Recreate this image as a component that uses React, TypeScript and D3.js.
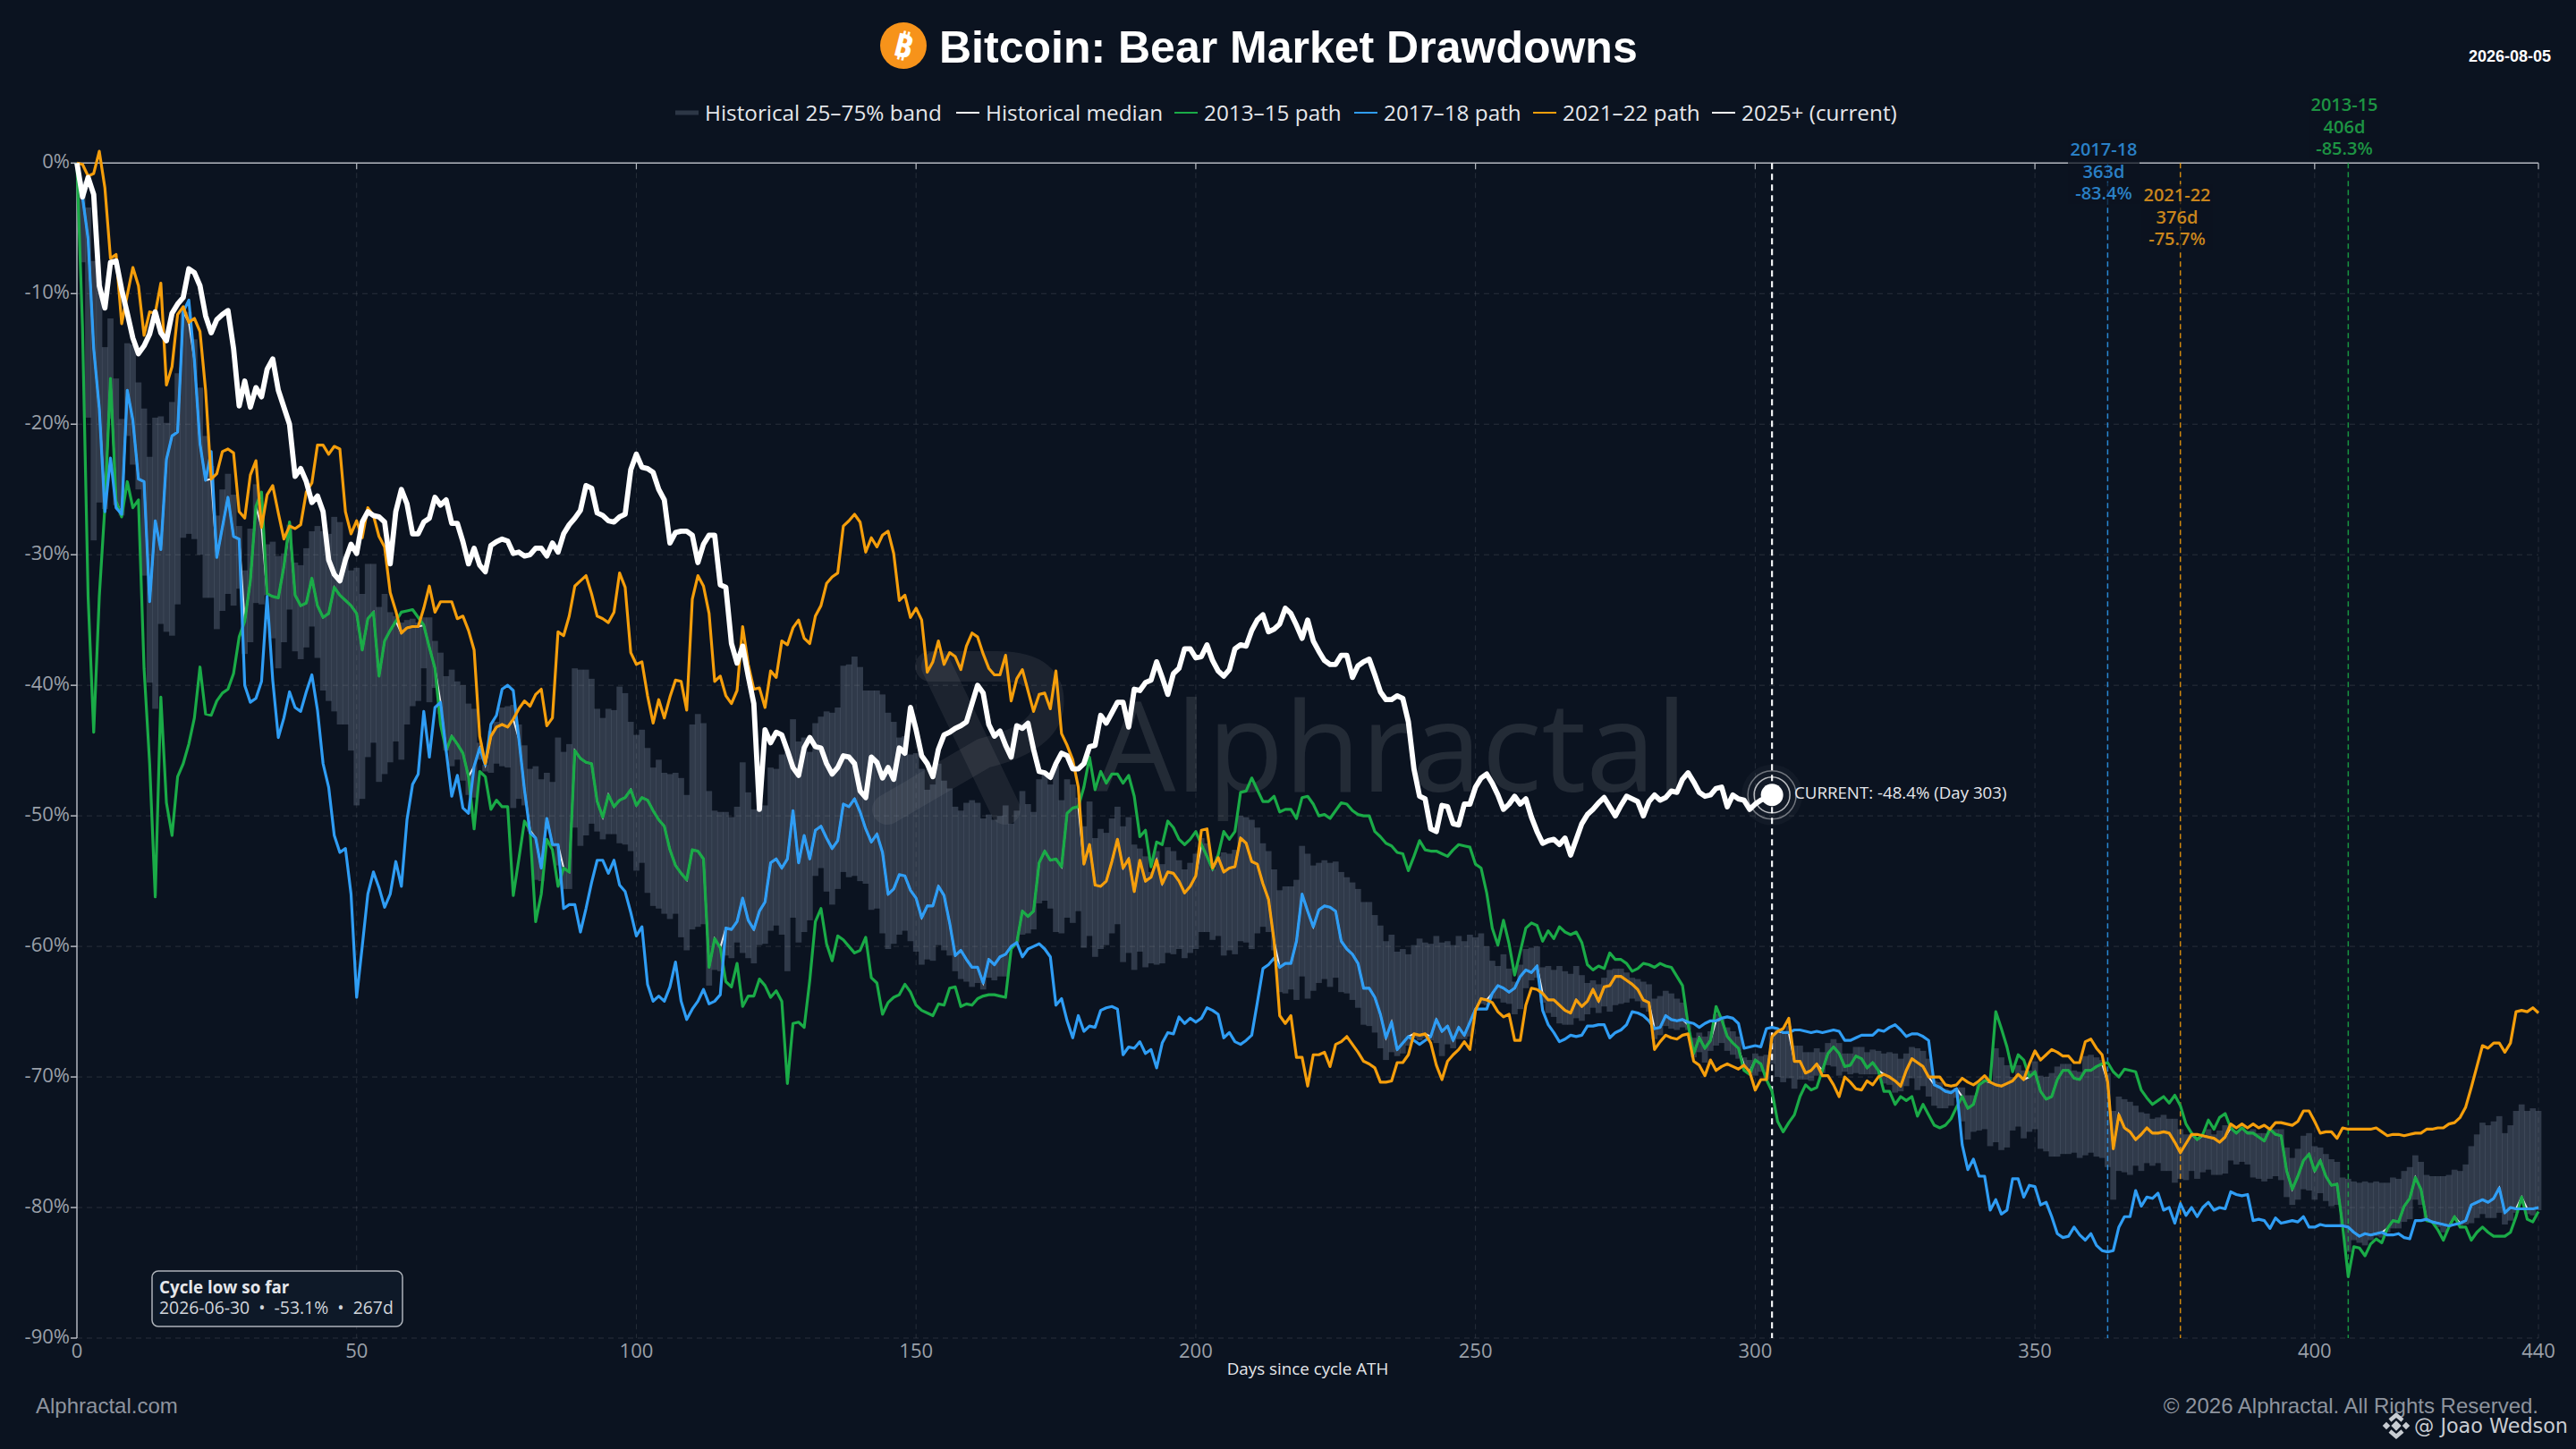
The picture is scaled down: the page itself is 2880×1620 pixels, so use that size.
import React from 'react';
import * as d3 from 'd3';

// daily drawdown (%), index = days since cycle ATH
const path2013 = [
  0,-12.6,-33.2,-43.6,-33.2,-26.3,-16.5,-25.9,-27.1,-24.4,-26.4,-25.8,-38.7,-46,-56.2,-40.9,-49,-51.5,-47,-46,
  -44.5,-42.5,-38.6,-42.2,-42.3,-41.2,-40.6,-40.3,-39.1,-36.3,-35.1,-32,-26.3,-25.2,-33,-33.2,-33.3,-30.9,-27.5,-33.1,
  -33.9,-33.7,-31.8,-33.9,-34.8,-34.5,-32.5,-33.1,-33.5,-33.9,-34.5,-37.3,-34.9,-34.4,-39.3,-36.6,-35.8,-35.1,-34.4,-34.3,
  -34.2,-34.8,-35.4,-37.1,-38.7,-43,-45,-43.9,-44.5,-45.2,-47,-51,-46.6,-47,-49.5,-48.8,-49.3,-49.3,-56.1,-53.3,
  -50.4,-51.1,-58.1,-56,-51.8,-52.6,-55.4,-54,-54.3,-45,-45.6,-45.9,-46,-48.9,-50.1,-48.4,-49.3,-48.8,-48.6,-48,
  -49.2,-48.6,-48.8,-49.6,-50.3,-50.8,-52.6,-53.8,-54.4,-54.9,-52.6,-52.7,-53.3,-61.6,-59.4,-60.1,-62.7,-63.1,-61.3,-64.6,
  -63.8,-63.8,-62.5,-63,-63.9,-63.4,-64.2,-70.5,-65.9,-65.8,-66.2,-62.6,-58.1,-57.1,-59.8,-61.1,-59.2,-59.5,-60,-60.5,
  -60.3,-59.3,-62.4,-62.8,-65.2,-64.3,-63.9,-63.7,-62.9,-63.5,-64.5,-64.9,-65.1,-65.3,-64.4,-64.5,-63.2,-63.1,-64.6,-64.4,
  -64.5,-64,-63.8,-63.7,-63.7,-63.8,-63.9,-60.2,-59.7,-57.3,-57.7,-57.3,-53.6,-52.7,-53.4,-53.3,-53.9,-49.8,-49.4,-49.3,
  -47.8,-45.5,-48,-46.6,-47.5,-46.8,-46.8,-47.5,-46.9,-48.5,-51.6,-51.1,-53.9,-52,-52.2,-50.4,-50.9,-51.8,-52.2,-51.8,
  -51.2,-52.2,-53.1,-54.1,-53,-51.2,-51.8,-51.2,-48.2,-48.1,-47.1,-48,-48.9,-48.9,-48.5,-49.7,-49.5,-49.5,-50.2,-48.6,
  -48.5,-49.1,-50,-49.9,-50.2,-49.6,-49,-49.1,-49.6,-49.9,-50,-50,-51.2,-51.6,-52.1,-52.3,-52.8,-52.9,-54.2,-53.1,
  -51.9,-52.6,-52.7,-52.7,-52.9,-53.1,-52.6,-52.2,-52.3,-52.4,-53.7,-54,-55.9,-58.6,-59.9,-58,-59.8,-62.2,-60.4,-58.6,
  -58.2,-58.4,-59.6,-58.8,-59.4,-58.5,-58.9,-59.1,-58.9,-59.7,-61.4,-61.8,-61.5,-61.7,-60.5,-61,-61,-61.3,-61.9,-61.7,
  -61.3,-61.4,-61.6,-61.3,-61.5,-61.6,-62.3,-63,-66,-68.2,-67,-67.8,-67.2,-64.6,-65.6,-66.9,-67.4,-67.8,-69.5,-69.8,
  -68.7,-69,-70.2,-71.1,-73.4,-74.2,-73.5,-72.9,-71.5,-70.6,-71,-70.8,-69.5,-68.2,-67.7,-68.2,-69.2,-69.1,-68.4,-68.6,
  -69.3,-68.9,-69.5,-71.1,-71.1,-72.1,-71.5,-71.8,-71.5,-73,-72.1,-72.9,-73.7,-73.9,-73.7,-73.2,-72.3,-71.5,-72.4,-72.1,
  -70.6,-70.3,-70.3,-65,-66.3,-67.7,-69.6,-68.3,-68.7,-70,-69.6,-71.1,-71.7,-71.5,-70.2,-69.5,-69.5,-70.1,-70.2,-69.5,
  -69.5,-69.2,-69,-68.9,-69.6,-70,-69.4,-69.5,-69.6,-71,-71.6,-72.1,-71.8,-71.5,-72,-71.4,-72.2,-73.6,-74.3,-74.8,
  -74.4,-73.3,-74,-73.1,-72.8,-73.9,-74.3,-73.9,-74.3,-74.3,-74.6,-74.9,-74,-74.4,-74.5,-77.2,-78.6,-77.6,-76.4,-75.9,
  -77.2,-76.4,-77.6,-78.3,-78.2,-81.4,-85.3,-83,-83.1,-83.7,-82.8,-82.4,-82.7,-81.6,-81,-81.1,-79.9,-79.3,-77.7,-78.6,
  -81,-81.1,-81.7,-82.5,-81.5,-80.7,-81.5,-81.5,-82.5,-81.9,-81.5,-81.9,-82.2,-82.2,-82.2,-81.9,-80.7,-79.2,-80.9,-81.1,
  -80.3,
];

const path2017 = [
  0,-2.6,-5.8,-14.2,-18.8,-26.7,-22.6,-26.4,-26.9,-17.4,-19.7,-24.2,-24.4,-33.6,-27.4,-29.6,-22.7,-20.9,-20.6,-11.4,
  -10.5,-15.1,-21.5,-24.3,-22.1,-30.2,-27.9,-25.6,-28.6,-28.8,-40,-41.3,-41,-39.7,-33.2,-39.6,-44,-42.5,-40.5,-41.7,
  -42,-40.5,-39.2,-41.9,-46,-47.8,-51.5,-52.8,-52.5,-56,-63.9,-60,-56,-54.3,-55.5,-57,-56,-53.5,-55.4,-50.3,
  -47.6,-46.8,-42,-45.5,-41.7,-41.3,-45,-48.5,-46.9,-49.4,-49.8,-46.2,-44.8,-46.1,-43,-42.3,-40.3,-40,-40.4,-44.1,
  -48,-51.3,-51.7,-54,-50.2,-52.2,-52.2,-57.1,-56.8,-56.8,-58.9,-57.1,-55.1,-53.4,-53.4,-54.4,-53.4,-55.3,-55.8,-57.4,
  -59.2,-58.5,-62.9,-64.2,-63.8,-64.2,-63.1,-61.2,-64.2,-65.6,-64.8,-64.2,-63.3,-64.4,-64.2,-63.7,-58.6,-58.7,-58.1,-56.3,
  -58,-58.7,-57.3,-56.6,-53.6,-53.3,-54,-53.3,-49.6,-53.6,-51.5,-53.3,-51.1,-50.8,-51.7,-52.5,-51.9,-49.1,-49.3,-48.7,
  -49.7,-51,-52,-51.4,-52.8,-56,-55.6,-54.5,-54.6,-55.7,-56.3,-57.8,-56.9,-56.9,-55.4,-56.1,-58.2,-60.7,-60.3,-61,
  -61.6,-61.6,-62.8,-61,-61.4,-60.8,-60.6,-60,-59.7,-60.8,-60.2,-60,-59.8,-60.2,-60.8,-64.5,-64,-65.7,-67,-65.3,
  -66.5,-66.1,-66.2,-64.9,-64.7,-64.6,-64.8,-68.3,-67.7,-67.8,-67.3,-68.2,-67.9,-69.3,-67.4,-66.6,-66.7,-65.4,-65.9,-65.5,
  -65.8,-65.5,-64.7,-64.9,-65.2,-67,-66.6,-67.3,-67.5,-67.2,-66.8,-64.3,-61.7,-61.4,-60.9,-61.6,-61.3,-61.3,-59.6,-56,
  -57.3,-58.5,-57.2,-56.9,-57,-57.3,-59.6,-60.2,-60.6,-61.3,-63.2,-63.2,-63.9,-65.2,-67,-65.8,-67.9,-67.4,-66.9,-67.2,
  -67.5,-67.2,-66.9,-65.6,-66.5,-66.1,-67.2,-66.2,-66.8,-65.8,-64.8,-64.8,-64.8,-63.6,-63,-63.2,-63.5,-63.2,-62.3,-61.8,
  -62,-61.5,-64.9,-66,-66.6,-67.3,-67.1,-66.8,-66.9,-66.8,-66.1,-66.1,-66,-66,-67,-66.6,-66.4,-66,-65,-65.1,
  -65.3,-65.7,-66.3,-66.2,-65.3,-65.6,-65.7,-65.6,-65.8,-65.9,-66.2,-65.9,-65.7,-65.7,-65.5,-65.4,-65.5,-65.9,-67.8,-67.7,
  -67.6,-67.7,-66.3,-66.2,-66.3,-66.6,-66.6,-66.4,-66.4,-66.5,-66.6,-66.5,-66.6,-66.5,-66.4,-66.5,-67.2,-67.2,-67,-66.8,
  -66.8,-66.8,-66.4,-66.5,-66.2,-66,-66.4,-66.9,-66.7,-66.7,-66.9,-67.2,-70.6,-70.8,-71.1,-71.2,-70.9,-75.2,-77.1,-76.3,
  -77.6,-77.6,-80.2,-79.4,-80.5,-80.2,-77.8,-77.8,-79.2,-78.3,-78.4,-79.8,-79.6,-80.7,-82,-82.3,-82.2,-81.5,-82.1,-82.5,
  -82,-82.9,-83.3,-83.4,-83.3,-81.5,-80.7,-80.7,-78.7,-79.9,-79.2,-79.3,-78.9,-80.2,-80,-81.2,-79.7,-80.6,-80,-80.7,
  -80,-79.6,-80.2,-80,-80.1,-78.8,-79,-79.1,-79,-81,-80.9,-81,-81.6,-80.8,-81.2,-81.1,-81,-81.1,-80.7,-81.5,
  -81.5,-81.3,-81.4,-81.4,-81.4,-81.4,-81.5,-81.9,-82.2,-82,-82.1,-82,-81.9,-82.1,-82.1,-82,-82.3,-82.4,-81,-81,
  -80.9,-81.1,-81.2,-81.3,-81.4,-81.3,-81.2,-81,-79.8,-79.6,-79.4,-79.6,-79.3,-78.5,-80.4,-80,-80.1,-80.1,-80.1,-80.1,
  -80,
];

const path2021 = [
  0,-0.1,-1,-0.8,0.9,-1.9,-7.3,-7,-12.3,-10.1,-8,-9.4,-13.2,-11.4,-11.5,-9.2,-17,-15.6,-11.6,-11,
  -12.2,-11.9,-12.9,-17.4,-24.2,-23.8,-22.1,-21.9,-22.2,-26.7,-27.2,-23.9,-22.8,-27.9,-25.4,-24.7,-26.8,-28.8,-27.8,-28,
  -27.7,-25.2,-24.5,-21.6,-21.6,-22.3,-21.7,-21.9,-26.7,-28.4,-27.4,-28.7,-26.4,-27,-28.6,-29.4,-32.9,-34.3,-36,-35.6,
  -35.5,-35.5,-34.1,-32.4,-34.4,-33.6,-33.6,-33.6,-34.9,-34.7,-35.8,-37.3,-43.9,-46,-43.9,-43.2,-43,-43.2,-42.6,-41.8,
  -41.2,-41.6,-40.7,-40.3,-43.1,-42.5,-35.9,-36.2,-34.7,-32.4,-32,-31.6,-33,-34.7,-34.9,-35.2,-34.4,-31.4,-32.5,-37.5,
  -38.4,-38.2,-40.8,-42.9,-41.1,-42.5,-40.9,-39.6,-39.7,-41.9,-33.4,-31.6,-32.4,-34.5,-39.7,-39.3,-40.8,-41.4,-40.4,-35.5,
  -38.4,-40.3,-40.2,-41.7,-38.9,-39.4,-36.6,-36.9,-35.6,-35,-36.4,-36.8,-34.7,-33.9,-32.2,-31.7,-31.4,-27.8,-27.4,-26.9,
  -27.5,-29.8,-28.7,-29.4,-28.5,-28.2,-29.9,-33.5,-33.1,-34.8,-34.1,-35,-39,-38.2,-36.6,-38.4,-37.5,-37.8,-38.8,-37,
  -36,-36.3,-37.6,-38.7,-39.2,-39.2,-37.7,-41.2,-39.5,-38.8,-40.4,-42,-40.7,-40.6,-41.8,-38.9,-43.7,-44.6,-45.7,-47.8,
  -53.7,-52.2,-55.3,-55.4,-55,-53.5,-51.8,-54,-53.3,-55.8,-53.4,-55,-54.7,-53.4,-55.2,-54.3,-54.4,-55,-55.9,-55.4,
  -54.6,-51.1,-51,-54,-53.2,-54.3,-54,-53.9,-51.7,-52.1,-53.5,-53.7,-55.2,-56.4,-59.6,-65.3,-65.9,-65.3,-68.5,-68.5,
  -70.7,-68.3,-68.3,-68.1,-69.2,-67.5,-67.3,-66.9,-67.5,-68.1,-68.8,-69,-69.3,-70.4,-70.4,-70.3,-68.9,-68.9,-68.3,-66.7,
  -66.8,-66.7,-67.4,-69.1,-70.2,-68.8,-68.3,-67.9,-67.3,-67.9,-64.9,-64,-64.1,-64.3,-65,-65.4,-65.2,-67.2,-67.2,-64.5,
  -63.2,-63.3,-63.6,-64.1,-64.1,-64.5,-64.9,-65.1,-64.1,-64.6,-64.2,-63.3,-64.2,-63.1,-63,-62.3,-62.3,-62.6,-62.9,-63.3,
  -64.1,-64.3,-67.9,-67.3,-66.8,-67,-67.1,-66.8,-66.7,-68.8,-69.1,-69.9,-68.7,-69.5,-69.2,-69,-69.2,-69.4,-69.1,-69.6,
  -71,-70.2,-70.2,-66.9,-66.5,-66.3,-65.5,-68.8,-68.8,-69.7,-69.5,-69,-69.9,-69.9,-70.6,-71.5,-70,-70.4,-70.9,-71,
  -70.3,-70.6,-70,-69.8,-70,-70.3,-70.7,-69.5,-68.6,-68.9,-69.2,-70,-70,-70,-70.6,-70.7,-70.6,-70.1,-70.4,-70.6,
  -70.3,-69.9,-70.4,-70.6,-70.7,-70.5,-70.3,-69.8,-70.2,-69,-68,-68.7,-68.3,-67.9,-68.1,-68.4,-68.4,-68.9,-68.9,-67.3,
  -67.1,-67.8,-68.3,-70.4,-75.5,-72.9,-73.9,-74.2,-74.8,-74.4,-73.9,-74.3,-74.3,-74.2,-74.3,-75,-75.8,-75.1,-74.4,-74.4,
  -74.5,-74.6,-74.7,-75,-74.6,-73.6,-73.9,-73.6,-73.9,-73.6,-73.9,-73.7,-74,-73.5,-73.5,-73.6,-73.7,-73.4,-72.6,-72.6,
  -73.4,-74.3,-74.2,-74.2,-74.7,-73.9,-74,-74,-74,-74,-74,-73.9,-74.2,-74.5,-74.4,-74.4,-74.5,-74.4,-74.3,-74.3,
  -74,-74,-73.9,-73.9,-73.6,-73.5,-73.1,-72.3,-70.8,-69.2,-67.6,-67.8,-67.4,-67.4,-68.1,-67.4,-65,-64.9,-65,-64.7,
  -65.1,
];

const pathCurrent = [
  0,-2.6,-1.1,-2.4,-9.4,-11.1,-7.6,-7.5,-9.7,-11.5,-13.4,-14.6,-14,-13.1,-11.4,-13,-13.6,-11.5,-10.8,-10.3,
  -8.1,-8.4,-9.4,-11.7,-13,-12,-11.6,-11.3,-14.2,-18.6,-16.7,-18.7,-17.2,-17.9,-15.8,-15,-17.4,-18.7,-20,-24,
  -23.4,-24.4,-26,-25.5,-26.7,-30.4,-31.5,-32,-30.4,-29.2,-29.9,-27.5,-26.7,-27,-27.1,-27.5,-30.7,-26.7,-25,-26.1,
  -28.4,-28.4,-27.5,-27.2,-25.6,-26.2,-25.8,-27.6,-27.6,-29,-30.7,-29.5,-30.8,-31.3,-29.3,-29,-28.8,-28.95,-29.9,-29.8,
  -30.1,-30,-29.5,-29.5,-30.1,-29.1,-29.8,-28.4,-27.7,-27.2,-26.6,-24.7,-24.9,-26.8,-27,-27.4,-27.5,-27.1,-26.9,-23.5,
  -22.3,-23.3,-23.4,-23.7,-25,-25.8,-29.1,-28.3,-28.2,-28.2,-28.5,-30.6,-29.2,-28.5,-28.5,-32.3,-32.5,-36.8,-38.3,-37,
  -39.3,-41.4,-49.5,-43.4,-44.4,-43.6,-43.8,-45,-46.3,-46.9,-44.8,-44,-44.7,-44.8,-46,-46.8,-46.3,-45.4,-45.5,-46,
  -48.1,-48.6,-45.5,-45.9,-47.1,-46.3,-47.2,-44.8,-45.2,-41.7,-43.4,-45.4,-46,-47,-44.9,-43.8,-43.6,-43.3,-43.1,-42.8,
  -41.4,-40,-40.6,-43,-43.9,-43.5,-44.6,-45.5,-43.1,-43.3,-42.9,-44.9,-46.6,-46.7,-47.05,-46,-45.2,-45.4,-46.4,-46.4,
  -46,-44.7,-44.6,-42.3,-42.9,-42.1,-41.3,-41.3,-43.2,-40.3,-40.4,-39.8,-39.6,-38.2,-39.4,-40.7,-39.1,-38.7,-37.2,-37.2,
  -37.9,-37.8,-36.9,-38.1,-38.9,-39.3,-38.8,-37.2,-36.9,-37,-35.8,-35,-34.6,-35.9,-35.7,-35.3,-34.1,-34.5,-35.4,-36.4,
  -35,-36.6,-37.4,-38.1,-38.4,-38.4,-37.7,-37.7,-39.4,-38.5,-38.2,-38,-39.2,-40.5,-41.1,-41.1,-40.8,-41,-42.8,-46.4,
  -48.5,-48.7,-51,-51.2,-49.2,-49.3,-50.6,-50.7,-49.1,-49.1,-47.8,-47.1,-46.8,-47.5,-48.4,-49.5,-49.1,-48.5,-49.1,-48.7,
  -50.1,-51.2,-52.1,-51.9,-51.8,-52.2,-51.7,-53,-51.8,-50.6,-49.9,-49.5,-49,-48.6,-49.3,-50,-49.2,-48.5,-48.7,-48.9,
  -50,-48.9,-48.4,-48.8,-48.6,-48.1,-48.2,-47.2,-46.7,-47.4,-48.2,-48.5,-48.4,-47.9,-47.8,-49.3,-48.4,-48.7,-48.8,-49.5,
  -49.1,-48.8,-48.6,-48.4,
];

const histMedian = [
  0,-2.6,-5.8,-14.2,-18.8,-26.3,-16.5,-25.9,-26.9,-17.4,-19.7,-24.2,-24.4,-33.6,-27.4,-29.6,-22.7,-20.9,-20.6,-11.4,
  -12.2,-15.1,-21.5,-24.3,-24.2,-30.2,-27.9,-25.6,-28.6,-28.8,-35.1,-32,-26.3,-27.9,-33,-33.2,-33.3,-30.9,-27.8,-33.1,
  -33.9,-33.7,-31.8,-33.9,-34.8,-34.5,-32.5,-33.1,-33.5,-33.9,-34.5,-37.3,-34.9,-34.4,-39.3,-36.6,-35.8,-35.1,-36,-35.6,
  -35.5,-35.5,-35.4,-37.1,-38.7,-41.3,-45,-43.9,-44.5,-45.2,-47,-46.2,-44.8,-46.1,-43.9,-43.2,-43,-43.2,-42.6,-44.1,
  -48,-51.1,-51.7,-54,-50.2,-52.2,-52.2,-54,-54.3,-45,-45.6,-45.9,-46,-48.9,-50.1,-48.4,-49.3,-48.8,-48.6,-48,
  -49.2,-48.6,-48.8,-49.6,-50.3,-50.8,-52.6,-53.8,-54.4,-54.9,-52.6,-52.7,-53.3,-61.6,-59.4,-60.1,-58.6,-58.7,-58.1,-56.3,
  -58,-58.7,-57.3,-56.6,-53.6,-53.3,-54,-53.3,-49.6,-53.6,-51.5,-53.3,-51.1,-50.8,-51.7,-52.5,-51.9,-49.1,-49.3,-48.7,
  -49.7,-51,-52,-51.4,-52.8,-56,-55.6,-54.5,-54.6,-55.7,-56.3,-57.8,-56.9,-56.9,-55.4,-56.1,-58.2,-60.7,-60.3,-61,
  -61.6,-61.6,-62.8,-61,-61.4,-60.8,-60.6,-60,-59.7,-57.3,-57.7,-57.3,-53.6,-52.7,-53.4,-53.3,-53.9,-49.8,-49.4,-49.3,
  -53.7,-52.2,-55.3,-55.4,-55,-53.5,-51.8,-54,-53.3,-55.8,-53.4,-55,-54.7,-53.4,-55.2,-54.3,-54.4,-55,-55.9,-55.4,
  -54.6,-52.2,-53.1,-54.1,-53.2,-54.3,-54,-53.9,-51.7,-52.1,-53.5,-53.7,-55.2,-56.4,-59.6,-61.6,-61.3,-61.3,-59.6,-56,
  -57.3,-58.5,-57.2,-56.9,-57,-57.3,-59.6,-60.2,-60.6,-61.3,-63.2,-63.2,-63.9,-65.2,-67,-65.8,-67.9,-67.4,-66.9,-66.7,
  -66.8,-66.7,-66.9,-65.6,-66.5,-66.1,-67.2,-66.2,-66.8,-65.8,-64.8,-64,-64.1,-63.6,-63,-63.2,-63.5,-63.2,-62.3,-61.8,
  -62,-61.5,-63.6,-64.1,-64.1,-64.5,-64.9,-65.1,-64.1,-64.6,-64.2,-63.3,-64.2,-63.1,-63,-62.3,-62.3,-62.6,-62.9,-63.3,
  -64.1,-64.3,-66.3,-66.2,-65.3,-65.6,-65.7,-65.6,-66,-68.2,-67,-67.8,-67.2,-65.7,-65.6,-66.9,-67.4,-67.8,-69.1,-69.6,
  -68.7,-69,-70.2,-66.9,-66.5,-66.6,-66.6,-68.8,-68.8,-69.7,-69.5,-69,-69.5,-68.2,-67.7,-68.2,-69.2,-69.1,-68.4,-68.6,
  -69.3,-68.9,-69.5,-69.8,-70,-70.3,-70.7,-69.5,-68.6,-68.9,-69.2,-70,-70.6,-70.8,-71.1,-71.2,-70.9,-71.5,-72.4,-72.1,
  -70.6,-70.3,-70.4,-70.6,-70.7,-70.5,-70.3,-69.8,-70.2,-70,-69.6,-71.1,-71.7,-71.5,-70.2,-69.5,-69.5,-70.1,-70.2,-69.5,
  -69.5,-69.2,-69,-70.4,-75.5,-72.9,-73.9,-74.2,-74.8,-74.4,-73.9,-74.3,-74.3,-74.2,-74.3,-75,-75.8,-75.1,-74.4,-74.8,
  -74.5,-74.6,-74.7,-75,-74.6,-73.9,-74.3,-73.9,-74.3,-74.3,-74.6,-74.9,-74,-74.4,-74.5,-77.2,-78.6,-77.6,-76.4,-75.9,
  -77.2,-76.4,-77.6,-78.3,-78.2,-81.4,-81.5,-81.9,-82.2,-82,-82.1,-82,-81.9,-81.6,-81,-81.1,-79.9,-79.3,-77.7,-78.6,
  -80.9,-81.1,-81.2,-81.3,-81.4,-80.7,-81.2,-81,-79.8,-79.6,-79.4,-79.6,-79.3,-78.5,-80.4,-80,-80.1,-79.2,-80.1,-80.1,
  -80,
];

const bandUpper = [
  0,-1.4,-3.4,-7.5,-9,-14.1,-11.9,-16.5,-19.6,-13.8,-13.9,-16.8,-18.8,-22.5,-19.5,-19.4,-19.9,-18.3,-16.1,-11.2,
  -11.4,-13.5,-17.2,-20.9,-23.2,-27,-25,-23.8,-25.4,-27.8,-31.2,-28,-24.6,-26.6,-29.2,-29,-30.1,-29.9,-27.7,-30.6,
  -30.8,-29.5,-28.2,-27.8,-28.2,-28.4,-27.1,-27.5,-30.1,-31.2,-31,-33,-30.7,-30.7,-34,-33,-34.4,-34.7,-35.2,-35,
  -34.9,-35.2,-34.8,-34.8,-36.6,-37.5,-39.3,-38.8,-39.7,-40,-41.4,-41.8,-44.4,-46.1,-43.5,-42.8,-41.7,-41.6,-41.5,-43,
  -44.6,-46.4,-46.2,-47.2,-46.7,-47.4,-44,-45.1,-44.5,-38.7,-38.8,-38.8,-39.5,-41.8,-42.5,-41.8,-41.9,-40.1,-40.6,-42.8,
  -43.8,-43.4,-44.8,-46.3,-45.7,-46.7,-46.8,-46.7,-47.1,-48.4,-43,-42.2,-42.9,-48.1,-49.6,-49.7,-49.7,-50.1,-49.3,-45.9,
  -48.2,-49.5,-48.8,-49.2,-46.3,-46.4,-45.3,-45.1,-42.6,-44.3,-44,-45.1,-42.9,-42.4,-42,-42.1,-41.7,-38.5,-38.4,-37.8,
  -38.6,-40.4,-40.4,-40.4,-40.7,-42.1,-42.8,-44,-43.9,-45.3,-45.2,-46.4,-48,-47.6,-46,-47.3,-47.9,-49.3,-49.6,-49,
  -48.8,-49,-50.2,-49.9,-50.3,-50,-49.2,-50.6,-49.6,-48.1,-49.1,-49.7,-47.2,-46.7,-47.6,-46.1,-48.8,-47.2,-47.6,-48.6,
  -50.8,-48.9,-51.7,-51,-51.3,-50.2,-49.3,-50.8,-50.1,-52.2,-52.5,-53.1,-54.3,-52.7,-53.7,-52.4,-52.7,-53.4,-54.1,-53.6,
  -52.9,-51.7,-52.1,-54.1,-53.1,-52.8,-52.9,-52.6,-50,-50.1,-50.3,-50.9,-52.1,-52.7,-54.1,-55.7,-55.4,-55.4,-54.9,-52.3,
  -52.9,-53.8,-53.6,-53.4,-53.6,-53.5,-54.3,-54.7,-55.1,-55.6,-56.6,-56.6,-57.6,-58.4,-59.6,-59.1,-60.4,-60.2,-60.6,-59.9,
  -59.4,-59.7,-59.8,-59.2,-59.7,-59.6,-59.9,-59.2,-59.6,-59.1,-59.3,-59,-60,-61.1,-61.5,-60.6,-61.7,-62.7,-61.4,-60.2,
  -60.1,-60,-61.6,-61.5,-61.8,-61.5,-61.9,-62.1,-61.5,-62.2,-62.8,-62.6,-62.9,-62.4,-61.8,-61.7,-61.7,-62,-62.4,-62.5,
  -62.7,-62.9,-64,-63.8,-63.4,-63.6,-64,-64.3,-65.9,-67,-66.6,-66.9,-66.5,-65.2,-65.6,-66.2,-66.5,-66.9,-68.5,-68.7,
  -68.2,-68.4,-68.3,-66.6,-66.4,-66.5,-66.1,-67.6,-67.6,-68.1,-68.1,-67.8,-68.1,-67.4,-67.1,-67.4,-68.2,-68.2,-67.7,-67.7,
  -68.1,-67.9,-68,-68.2,-68.1,-68.2,-68.6,-68.2,-67.7,-67.8,-68,-68.6,-70.3,-70.4,-70.9,-71,-70.8,-70.8,-71.4,-71.4,
  -70.5,-70.1,-70.4,-67.8,-68.5,-69.1,-70,-69.1,-69.5,-69.5,-68.8,-69.9,-70,-69.7,-69.2,-69,-69,-69.5,-69.6,-68.4,
  -68.3,-68.5,-68.7,-69.7,-72.6,-71.5,-71.7,-71.9,-72.2,-72.7,-72.8,-73.2,-73.1,-72.9,-73.2,-73.2,-74,-74.4,-74.4,-74.6,
  -74.5,-74,-74.4,-74.1,-73.7,-73.8,-74.1,-73.8,-74.1,-74,-74.3,-74.3,-74,-74,-74,-75.4,-76.2,-75.5,-74.5,-74.3,
  -75.3,-75.4,-75.9,-76.3,-76.5,-77.7,-77.8,-78,-78.1,-78,-78.1,-78,-78.1,-78.1,-77.7,-77.8,-77.2,-76.9,-76,-76.5,
  -77.5,-77.6,-77.6,-77.6,-77.5,-77.1,-77.2,-76.7,-75.3,-74.4,-73.5,-73.7,-73.4,-73,-74.3,-73.7,-72.6,-72.1,-72.6,-72.4,
  -72.6,
];

const bandLower = [
  0,-7.6,-19.5,-28.9,-26,-26.5,-19.6,-26.2,-27,-20.9,-23.1,-25,-31.6,-39.8,-41.8,-35.3,-35.9,-36.2,-33.8,-28.7,
  -28.4,-28.8,-30,-33.3,-33.3,-35.7,-34.3,-33,-33.9,-32.6,-37.6,-36.7,-33.7,-33.8,-33.1,-36.4,-38.7,-36.7,-34.2,-37.4,
  -38,-37.1,-35.5,-37.9,-40.4,-41.2,-42,-43,-43,-45,-49.2,-48.7,-45.5,-44.4,-47.4,-46.8,-45.9,-44.3,-45.7,-43,
  -41.6,-41.2,-38.7,-41.3,-40.2,-42.2,-45,-46.2,-45.7,-47.3,-48.4,-48.6,-45.7,-46.6,-46.7,-46,-46.2,-46.3,-49.4,-48.7,
  -49.2,-51.2,-54.9,-55,-51,-52.4,-53.8,-55.6,-55.6,-50.9,-52.3,-51.5,-50.6,-51.2,-51.8,-51.4,-51.4,-52.1,-52.2,-52.7,
  -54.2,-53.6,-55.9,-56.9,-57.1,-57.5,-57.9,-57.5,-59.3,-60.3,-58.7,-58.5,-58.3,-63,-61.8,-61.9,-60.7,-60.9,-59.7,-60.5,
  -60.9,-61.3,-59.9,-59.8,-58.8,-58.4,-59.1,-61.9,-57.8,-59.7,-58.9,-58,-54.6,-54,-55.8,-56.8,-55.6,-54.3,-54.7,-54.6,
  -55,-55.2,-57.2,-57.1,-59,-60.2,-59.8,-59.1,-58.8,-59.6,-60.4,-61.4,-61,-61.1,-59.9,-60.3,-60.7,-61.9,-62.5,-62.7,
  -63.1,-62.8,-63.3,-62.4,-62.6,-62.3,-62.3,-60.1,-59.7,-59.1,-59,-58.7,-56.7,-56.5,-57.1,-58.9,-59,-57.8,-58.2,-57.3,
  -60.1,-59.2,-60.8,-60.2,-59.9,-59,-58.3,-61.2,-60.5,-61.8,-60.4,-61.6,-61.3,-61.4,-61.3,-60.5,-60.6,-60.2,-60.9,-60.5,
  -60.2,-58.9,-58.9,-59.5,-59.2,-60.7,-60.3,-60.6,-59.6,-59.7,-60.2,-59,-58.5,-58.9,-60.3,-63.5,-63.6,-63.3,-64.1,-62.3,
  -64,-63.4,-62.8,-62.5,-63.1,-62.4,-63.5,-63.6,-64.1,-64.7,-66,-66.1,-66.6,-67.8,-68.7,-68.1,-68.4,-68.2,-67.6,-67,
  -67.2,-67,-67.2,-67.4,-68.4,-67.5,-67.8,-67.1,-67.1,-66.9,-64.9,-64.4,-64.5,-64,-64,-64.3,-64.4,-65.2,-64.8,-63.2,
  -62.6,-62.4,-64.3,-65.1,-65.4,-65.9,-66,-66,-65.5,-65.7,-65.2,-64.7,-65.1,-64.6,-65,-64.5,-64.4,-64.3,-64,-64.2,
  -64.7,-65,-67.1,-66.8,-66.1,-66.3,-66.4,-66.2,-66.4,-68.5,-68.1,-68.9,-68,-67.6,-67.4,-68,-68.3,-68.6,-69.3,-69.7,
  -69.9,-69.6,-70.2,-69,-70,-70.4,-70.1,-70.9,-70.2,-70.2,-70.3,-69.9,-69.7,-69.1,-69.2,-69.9,-69.6,-69.8,-69.7,-69.8,
  -69.8,-69.8,-69.8,-70.5,-70.6,-71.2,-71.1,-70.7,-70.1,-71,-70.7,-71.5,-72.2,-72.4,-72.4,-72.2,-71.6,-73.4,-74.8,-74.2,
  -74.1,-74,-75.3,-75,-75.6,-75.4,-74.1,-73.8,-74.7,-74.2,-74,-75.5,-75.7,-76.1,-76.1,-75.9,-75.9,-75.8,-76.2,-76,
  -75.8,-76.1,-76.2,-76.9,-79.4,-77.2,-77.3,-77.5,-76.8,-77.2,-76.6,-76.8,-76.6,-77.2,-77.2,-78.1,-77.8,-77.9,-77.2,-77.8,
  -77.3,-77.1,-77.5,-77.5,-77.4,-76.4,-76.7,-76.5,-76.7,-77.7,-77.8,-78,-77.8,-77.6,-77.9,-79.2,-79.8,-79.4,-78.6,-78.7,
  -79.4,-78.9,-79.5,-79.9,-79.8,-81.4,-83.4,-82.5,-82.7,-82.9,-82.5,-82.2,-82.3,-81.9,-81.6,-81.6,-81.1,-80.9,-79.4,-79.8,
  -81,-81.1,-81.5,-81.9,-81.5,-81,-81.4,-81.3,-81.2,-80.8,-80.5,-80.8,-80.8,-80.4,-81.3,-81,-80.4,-79.7,-80.5,-80.6,
  -80.2,
];

const yTicks = [0, -10, -20, -30, -40, -50, -60, -70, -80, -90];
const xTicks = [0, 50, 100, 150, 200, 250, 300, 350, 400, 440];

const legendItems = [
  { label: 'Historical 25–75% band', color: '#2d3746', width: 5 },
  { label: 'Historical median', color: '#ffffff', width: 2 },
  { label: '2013–15 path', color: '#1aab47', width: 2 },
  { label: '2017–18 path', color: '#2f9df4', width: 2 },
  { label: '2021–22 path', color: '#f59e0b', width: 2 },
  { label: '2025+ (current)', color: '#ffffff', width: 2 },
];
const legendTextX = [788, 1102, 1346, 1547, 1747, 1947];

const cycleEnds = [
  { name: '2017-18', day: 363, low: '-83.4%', color: '#2f9df4', text: '#2a80c6', labelX: 2352, labelY: 167 },
  { name: '2021-22', day: 376, low: '-75.7%', color: '#f59e0b', text: '#c9851c', labelX: 2434, labelY: 218 },
  { name: '2013-15', day: 406, low: '-85.3%', color: '#1aab47', text: '#1d9443', labelX: 2621, labelY: 117 },
];

const W = 2880;
const H = 1620;
const sans = '"Liberation Sans", Arial, sans-serif';
const ui = '"Open Sans", "Noto Sans", sans-serif';

const x = d3.scaleLinear().domain([0, 440]).range([86, 2838]);
const y = d3.scaleLinear().domain([0, -90]).range([182.3, 1496]);

const pathLine = d3.line<number>()
  .x((_, i) => x(i))
  .y(d => y(d));

const App: React.FC = () => {
  document.body.style.margin = '0';
  document.body.style.background = '#0b1320';
  const barW = x(1) - x(0) + 0.5;
  const nowX = x(pathCurrent.length - 1);
  const nowY = y(pathCurrent[pathCurrent.length - 1]);

  return (
    <svg width={W} height={H} viewBox={`0 0 ${W} ${H}`} style={{ position: 'absolute', left: 0, top: 0 }}>
      <rect width={W} height={H} fill="#0b1320" />

      {/* watermark */}
      <g fill="none" stroke="#ffffff" strokeOpacity={0.07} strokeWidth={34} strokeLinecap="round" strokeLinejoin="round">
        <path d="M1047 745 L1124 905" />
        <path d="M1040 745 H1115 Q1178 745 1172 792 Q1166 826 1100 842 L992 905" />
      </g>
      <text x={1226} y={885} fontFamily={ui} fontSize={140} fill="#ffffff" fillOpacity={0.1}>Alphractal</text>

      {/* grid */}
      {yTicks.slice(1).map(t => (
        <line key={t} x1={x(0)} x2={x(440)} y1={y(t)} y2={y(t)} stroke="#ffffff" strokeOpacity={0.12} strokeDasharray="6 5" />
      ))}
      {xTicks.slice(1).map(t => (
        <line key={t} x1={x(t)} x2={x(t)} y1={y(0)} y2={y(-90)} stroke="#ffffff" strokeOpacity={0.11} strokeDasharray="6 5" />
      ))}

      {/* band */}
      {bandUpper.map((u, i) => (
        <rect key={i} x={x(i) - barW / 2} width={barW} y={y(u)} height={Math.max(0, y(bandLower[i]) - y(u))} fill="#94a3b8" fillOpacity={0.28} />
      ))}

      {/* axes */}
      <line x1={x(0)} x2={x(440)} y1={y(0)} y2={y(0)} stroke="#b4b8c0" strokeWidth={1.5} />
      <line x1={x(0)} x2={x(0)} y1={y(0)} y2={y(-90)} stroke="#b4b8c0" strokeWidth={1.5} />
      {yTicks.map(t => (
        <g key={t}>
          <line x1={x(0) - 7} x2={x(0)} y1={y(t)} y2={y(t)} stroke="#b4b8c0" strokeWidth={1.5} />
          <text x={78} y={y(t) - 2} dy="0.35em" textAnchor="end" fontFamily={ui} fontSize={22} fill="#9aa0a9">{t}%</text>
        </g>
      ))}
      {xTicks.map(t => (
        <g key={t}>
          <line x1={x(t)} x2={x(t)} y1={y(0)} y2={y(0) + 7} stroke="#b4b8c0" strokeWidth={1.2} />
          <text x={x(t)} y={1518} textAnchor="middle" fontFamily={ui} fontSize={22} fill="#9aa0a9">{t}</text>
        </g>
      ))}
      <text x={1462} y={1537} textAnchor="middle" fontFamily={ui} fontSize={18.8} fill="#e5e7eb">Days since cycle ATH</text>

      {/* cycle low markers */}
      {cycleEnds.map(c => (
        <g key={c.name}>
          <line x1={x(c.day)} x2={x(c.day)} y1={y(0)} y2={y(-90)} stroke={c.color} strokeWidth={1.5} strokeDasharray="6 4" strokeOpacity={0.85} />
          {[c.name, `${c.day}d`, c.low].map((s, i) => (
            <g key={s}>
              <rect x={c.labelX - 40} y={c.labelY + i * 24.5 - 12} width={80} height={24} fill="#0b1320" fillOpacity={0.7} />
              <text x={c.labelX} y={c.labelY + i * 24.5} dy="0.35em" textAnchor="middle" fontFamily={ui} fontWeight={600} fontSize={20} fill={c.text}>{s}</text>
            </g>
          ))}
        </g>
      ))}
      <line x1={nowX} x2={nowX} y1={y(0)} y2={y(-90)} stroke="#f1f3f5" strokeWidth={2.2} strokeDasharray="7 5" />

      {/* paths */}
      <path d={pathLine(histMedian) || undefined} fill="none" stroke="#ffffff" strokeWidth={2} strokeOpacity={0.9} />
      <path d={pathLine(path2013) || undefined} fill="none" stroke="#1aab47" strokeWidth={3.2} strokeLinejoin="round" />
      <path d={pathLine(path2017) || undefined} fill="none" stroke="#2f9df4" strokeWidth={3.2} strokeLinejoin="round" />
      <path d={pathLine(path2021) || undefined} fill="none" stroke="#f59e0b" strokeWidth={3.2} strokeLinejoin="round" />
      <path d={pathLine(pathCurrent) || undefined} fill="none" stroke="#ffffff" strokeWidth={5.8} strokeLinejoin="round" />

      {/* current marker */}
      <circle cx={nowX} cy={nowY} r={34} fill="#ffffff" fillOpacity={0.03} />
      <circle cx={nowX} cy={nowY} r={27} fill="none" stroke="#ffffff" strokeOpacity={0.4} strokeWidth={1.5} />
      <circle cx={nowX} cy={nowY} r={20} fill="none" stroke="#ffffff" strokeOpacity={0.7} strokeWidth={1.5} />
      <circle cx={nowX} cy={nowY} r={12.5} fill="#ffffff" />
      <text x={2006} y={886} dy="0.35em" fontFamily={ui} fontSize={18.7} fill="#e5e7eb">CURRENT: -48.4% (Day 303)</text>

      {/* cycle low box */}
      <rect x={170} y={1421} width={280} height={62} rx={7} fill="#0e1928" stroke="#aeb3ba" strokeWidth={1.5} />
      <text x={178} y={1439} dy="0.35em" fontFamily={ui} fontWeight={700} fontSize={18.8} fill="#e5e7eb">Cycle low so far</text>
      <text x={178} y={1462} dy="0.35em" fontFamily={ui} fontSize={19.4} fill="#d1d5db" xmlSpace="preserve">2026-06-30  •  -53.1%  •  267d</text>

      {/* title */}
      <circle cx={1010} cy={51} r={26} fill="#f7931a" />
      <text x={1010} y={51} dy="0.36em" textAnchor="middle" transform="rotate(14 1010 51)" fontFamily='"Noto Sans", "DejaVu Sans", sans-serif' fontWeight={700} fontSize={36} fill="#ffffff">₿</text>
      <text x={1050} y={70} fontFamily={sans} fontWeight={700} fontSize={50} fill="#ffffff">Bitcoin: Bear Market Drawdowns</text>
      <text x={2852} y={69} textAnchor="end" fontFamily={sans} fontWeight={700} fontSize={18} fill="#ffffff">2026-08-05</text>

      {/* legend */}
      {legendItems.map((it, i) => (
        <g key={it.label}>
          <line x1={legendTextX[i] - 33} x2={legendTextX[i] - 7} y1={126} y2={126} stroke={it.color} strokeWidth={it.width} />
          <text x={legendTextX[i]} y={126} dy="0.35em" fontFamily={ui} fontSize={24.3} fill="#e5e7eb">{it.label}</text>
        </g>
      ))}

      {/* footer */}
      <text x={40} y={1572} dy="0.35em" fontFamily={sans} fontSize={24} fill="#8e949e">Alphractal.com</text>
      <text x={2838} y={1572} dy="0.35em" textAnchor="end" fontFamily={sans} fontSize={24} fill="#8e949e">© 2026 Alphractal. All Rights Reserved.</text>
      <g transform="translate(2679 1594)">
        <g fill="#c8ccd2">
          {[[-11, 0, 3], [11, 0, 3], [0, 0, 4]].map(([dx, dy, s], i) => (
            <rect key={i} x={dx - s} y={dy - s} width={s * 2} height={s * 2} transform={`rotate(45 ${dx} ${dy})`} />
          ))}
        </g>
        <path d="M-7 -6 L0 -12 L7 -6 M-7 6 L0 12 L7 6" fill="none" stroke="#c8ccd2" strokeWidth={4.5} />
      </g>
      <text x={2699} y={1594} dy="0.35em" fontFamily='"DejaVu Sans", sans-serif' fontSize={22.3} fill="#c8ccd2">@ Joao Wedson</text>
    </svg>
  );
};

export default App;
